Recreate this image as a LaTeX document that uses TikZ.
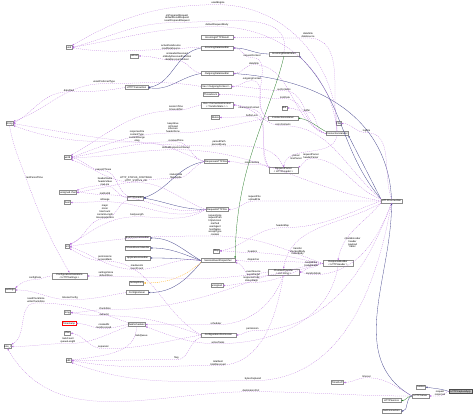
\documentclass[tikz,border=0pt]{standalone}
\usepackage{fontspec}
\setmainfont{Liberation Sans}
\usetikzlibrary{arrows.meta}
\definecolor{usepurple}{RGB}{154,50,205}
\definecolor{pubblue}{RGB}{25,25,112}
\definecolor{protgreen}{RGB}{0,100,0}
\definecolor{tmplorange}{RGB}{255,165,0}
\definecolor{boxgray}{RGB}{102,102,102}
\definecolor{mainfill}{RGB}{191,191,191}
\newcommand\dxfont{\fontsize{2.5}{2.8}\selectfont}

\begin{document}
\begin{tikzpicture}[x=1pt,y=1pt,>={Latex[length=2pt,width=1.6pt]},
  cls/.style={draw=boxgray!75,line width=0.25pt,fill=white,inner sep=0.6pt,minimum height=3.8pt,font=\dxfont,align=center},
  lbl/.style={font=\dxfont,align=center,inner sep=0.2pt,text=black},
  usage/.style={->,usepurple!70,line width=0.25pt,dash pattern=on 1pt off 1pt},
  pub/.style={->,pubblue!80,line width=0.3pt},
  prot/.style={->,protgreen!85,line width=0.3pt},
  tmpl/.style={->,tmplorange,line width=0.3pt,dash pattern=on 1pt off 1pt}]
  \useasboundingbox (0,0) rectangle (474,415);

  \node[cls] (nVoid) at (69,367.5) {void};
  \node[cls] (nWord) at (134.5,359) {ushort};
  \node[cls] (nStr) at (9.5,291.5) {string};
  \node[cls] (nUint) at (67.5,257.5) {uint8};
  \node[cls] (nUchar) at (68,222.5) {unsigned char};
  \node[cls] (nBool) at (67.5,212.5) {bool};
  \node[cls] (nInt) at (67.5,168.5) {int};
  \node[cls,minimum width=35] (nCfgStore) at (69.5,139) {ConfigurationDataStore\\< HTTPSettings >};
  \node[cls] (nCfg) at (10,125) {Settings};
  \node[cls] (nLong) at (67.5,102.5) {long};
  \node[cls,draw=red] (nRed) at (69,91.5) {Timestamp};
  \node[cls] (nChar) at (67.5,82) {char};
  \node[cls] (nSize) at (7.5,68.5) {size\_t};
  \node[cls] (nT) at (68.5,54.5) {u64};

  \node[cls,minimum width=23] (nHS) at (136.5,327.5) {HTTPTransaction};
  \node[cls] (nHeader) at (135.5,217) {HTTPHeader};
  \node[cls,minimum width=25] (nB1) at (137.5,177) {EventSourceHandler};
  \node[cls,minimum width=25] (nB2) at (137.5,167) {TimeoutEventHandler};
  \node[cls,minimum width=25] (nB3) at (137.5,157) {ApplicationHandler};
  \node[cls] (nMutexB) at (136.5,132) {Semaphore};
  \node[cls,minimum width=22] (nList) at (137,122.5) {ConfigListener};
  \node[cls] (nTS) at (136.5,90.5) {TaskScheduler};

  \node[cls,minimum width=32] (nR1) at (217,377.5) {IncomingHTTPResult};
  \node[cls,minimum width=32] (nR2) at (217,367) {IncomingDataHandler};
  \node[cls,minimum width=32] (nR3) at (217,341.5) {OutgoingDataHandler};
  \node[cls,minimum width=30] (nR4) at (216,328.5) {Vec< OutgoingContext >};
  \node[cls] (nR5) at (210.5,320.5) {ThreadLock};
  \node[cls,minimum width=32] (nR6) at (217,310) {Vec< ConnectionContext\\< TransferState > >};
  \node[cls] (nR7) at (215.5,297.5) {Mutex};
  \node[cls,minimum width=20] (nR8) at (216,253.5) {ResponseHTTPFile};
  \node[cls,minimum width=22] (nR9) at (217,205.5) {RequestHTTPFile};
  \node[cls] (nMap) at (216.5,164) {Map};
  \node[cls,minimum width=34] (nWork) at (218,154.5) {SessionEventDispatcher};
  \node[cls] (nU) at (217,129.5) {unsigned};
  \node[cls,minimum width=35] (nCW) at (218.5,80) {ConfigurationPermission};

  \node[cls,minimum width=30] (nC1) at (284,361) {IncomingDataStream};
  \node[cls] (nEmpty) at (284.5,307) {Buf};
  \node[cls,minimum width=30] (nC2) at (283,297) {ConnectionListener};
  \node[cls,minimum width=29] (nC3) at (283.5,244.5) {RequestParser\\< HTTPHeader >};
  \node[cls,minimum width=31] (nC4) at (283.5,143) {ChunkedTransfer\\< std::string >};

  \node[cls] (nFile) at (338.5,291.5) {File};
  \node[cls,minimum width=22] (nD1) at (337,281.5) {ConnectionHandler};
  \node[cls,minimum width=30] (nD2) at (338,151.5) {ResponseBuilder\\< HTTPHeader >};
  \node[cls] (nTime) at (337.5,32.5) {TimeOutT};

  \node[cls,minimum width=21] (nE1) at (391.5,214) {HTTPConnection};
  \node[cls] (nF1) at (421,28) {Socket};
  \node[cls,minimum width=17] (nF2) at (420.5,19) {HTTPServer};
  \node[cls,minimum width=19] (nG1) at (391.5,14.5) {HTTPService};
  \node[cls,minimum width=19] (nG2) at (391.5,4) {NetConnection};
  \node[cls,draw=black!70,fill=mainfill,minimum width=23] (nMain) at (460.5,23.5) {HTTPCaptureApp};

  \draw[pub] (nR2.west) to[out=190,in=10] (nHS.east);
  \draw[pub] (nR3.west) to[out=190,in=-10] (nHS.east);
  \draw[pub] (nE1.north) .. controls (388,290) and (330,335) .. (nR3.east);
  \draw[pub] (nE1.north west) to[out=130,in=-45] (nC1.south east);
  \draw[pub] (nE1.north west) -- (nD1.south east);
  \draw[pub] (nC1.west) to[out=180,in=0] (nR2.east);
  \draw[pub] (nR8.west) to[out=190,in=20] (nHeader.east);
  \draw[pub] (nR9.west) to[out=180,in=-10] (nHeader.east);
  \draw[pub] (nWork.west) to[out=150,in=0] (nB1.east);
  \draw[pub] (nWork.west) to[out=160,in=0] (nB2.east);
  \draw[pub] (nWork.west) to[out=175,in=0] (nB3.east);
  \draw[pub] (nWork.south west) to[out=-130,in=0] (nList.east);
  \draw[tmpl] (nWork.south west) to[out=-140,in=0] (nMutexB.east);
  \draw[pub] (nMain.west) to[out=160,in=-10] (nF1.east);
  \draw[pub] (nF2.west) to[out=-160,in=0] (nG2.east);
  \draw[pub] (nF2.west) to[out=150,in=-90] (nE1.south);
  \draw[prot] (nC1.south) .. controls (270,300) and (236,250) .. (nWork.north east);
  \draw[prot] (nD1.north west) to[out=150,in=-10] (nC2.east);
  \draw[prot] (nF2.west) to[out=180,in=0] (nG1.east);

  \draw[usage] (nD1.north) to[out=90,in=0] (218,410.3) node[lbl,above]{usedEngine} to[out=180,in=30] (nVoid.north east);
  \draw[usage] (nC1.north) to[out=80,in=0] (177,392.5) node[lbl,above]{onPreparedRequest\\defaultResultRequest\\resetPreparedRequest} to[out=180,in=15] (nVoid.east);
  \draw[usage] (nD1.north) to[out=95,in=0] (217,388.3) node[lbl,above]{defaultRequestBody} to[out=180,in=10] (nVoid.east);
  \draw[usage] (nR2.west) to[out=170,in=0] (171,365.5) node[lbl,above]{activeDataSource\\readDataSource} to[out=180,in=-10] (nVoid.east);
  \draw[usage] (nR3.west) to[out=170,in=0] (177,354.5) node[lbl,above]{onHeaderReceived\\onBodyReceivedFunction\\dataReceiverContext} to[out=180,in=0] (nWord.east);
  \draw[usage] (nR4.west) to[out=170,in=0] (104,331.3) node[lbl,above]{unsetPreferredType} to[out=180,in=20] (nStr.north east);
  \draw[usage] (nHS.west) to[out=190,in=0] (69,323.3) node[lbl,above]{dataFlow} to[out=180,in=30] (nStr.east);
  \draw[usage] (nD1.north) to[out=100,in=0] (308,377) node[lbl,above]{dataSink\\dataSource} to[out=180,in=0] (nR1.east);
  \draw[usage] (nC2.west) to[out=150,in=0] (252,357.3) node[lbl,above]{requestContext} to[out=180,in=0] (nR2.east);
  \draw[usage] (nD1.west) to[out=160,in=0] (254,350.3) node[lbl,above]{dataSink} to[out=180,in=0] (nR3.east);
  \draw[usage] (nC2.west) to[out=160,in=0] (252,334.3) node[lbl,above]{outgoingContext} to[out=180,in=0] (nR4.east);
  \draw[usage] (nD1.west) to[out=165,in=0] (284,324.3) node[lbl,above]{outContexts} to[out=180,in=0] (nR4.east);
  \draw[usage] (nD1.west) to[out=170,in=0] (285,316.3) node[lbl,above]{lockData} to[out=180,in=0] (nR5.east);
  \draw[usage] (nC3.north west) to[out=120,in=0] (249,306.3) node[lbl,above]{connectionContext} to[out=180,in=0] (nR6.east);
  \draw[usage] (nD1.west) to[out=175,in=0] (307,303.3) node[lbl,above]{buffer} to[out=180,in=0] (nEmpty.east);
  \draw[usage] (nC3.north west) to[out=130,in=0] (252,298.3) node[lbl,above]{bufferLock} to[out=180,in=0] (nR7.east);
  \draw[usage] (nE1.north west) to[out=140,in=0] (283,289.3) node[lbl,above]{connContexts} to[out=180,in=0] (nR6.east);
  \draw[usage] (nR6.west) to[out=190,in=0] (176,304.5) node[lbl,above]{sessionTime\\timeoutAfter} to[out=180,in=30] (nUint.north east);
  \draw[usage] (nC2.west) to[out=190,in=0] (173,282) node[lbl,above]{keepAlive\\isClosed\\isSecure\\headerDone} to[out=180,in=20] (nUint.east);
  \draw[usage] (nR8.west) to[out=160,in=0] (137,273) node[lbl,above]{responseFile\\contentType\\contentRange\\etag} to[out=180,in=-20] (nStr.south east);
  \draw[usage] (nR8.west) to[out=170,in=0] (176,273.3) node[lbl,above]{receivedTime} to[out=180,in=10] (nUint.east);
  \draw[usage] (nC3.north) to[out=110,in=0] (219,269) node[lbl,above]{parsedPath\\parsedQuery} to[out=180,in=-10] (nStr.east);
  \draw[usage] (nE1.west) to[out=170,in=0] (176,265.3) node[lbl,above]{defaultResponseCharset} to[out=180,in=0] (nUint.east);
  \draw[usage] (nR8.west) to[out=200,in=0] (176,236.5) node[lbl,above]{statusCode\\fileHandle} to[out=180,in=10] (nUchar.east);
  \draw[usage] (nR9.west) to[out=160,in=0] (136,232.5) node[lbl,above]{HTTP\_STATUS\_CONTINUE\\HTTP\_STATUS\_OK} to[out=180,in=-20] (nUint.south east);
  \draw[usage] (nHeader.west) to[out=170,in=0] (105,229.5) node[lbl,above]{headerName\\headerValue\\rawLine} to[out=180,in=20] (nUchar.north east);
  \draw[usage] (nHeader.north west) to[out=150,in=0] (103.5,244.3) node[lbl,above]{reasonPhrase} to[out=180,in=-10] (nUint.east);
  \draw[usage] (nR9.west) to[out=190,in=0] (105,220.3) node[lbl,above]{methodId} to[out=180,in=0] (nUchar.east);
  \draw[usage] (nR9.west) to[out=200,in=0] (105,213.3) node[lbl,above]{isRange} to[out=180,in=0] (nBool.east);
  \draw[usage] (nR9.west) to[out=210,in=0] (137,198.3) node[lbl,above]{bodyLength} to[out=180,in=30] (nInt.north east);
  \draw[usage] (nHeader.south west) to[out=200,in=0] (105,196.5) node[lbl,above]{major\\minor\\lineCount\\contentLength\\maxHeaderSize} to[out=180,in=20] (nInt.north east);
  \draw[usage] (nD2.west) to[out=160,in=0] (215,179) node[lbl,above]{requestLine\\requestPath\\httpVersion\\method\\userAgent\\hostName\\acceptType\\cookies} to[out=180,in=10] (nInt.east);
  \draw[usage] (nWork.west) to[out=170,in=0] (137,145.5) node[lbl,above]{maxEvents\\eventCount} to[out=180,in=-20] (nInt.east);
  \draw[usage] (nCW.west) to[out=150,in=0] (105,154) node[lbl,above]{permissions\\accessMask} to[out=180,in=-30] (nInt.south east);
  \draw[usage] (nStr.south) to[out=-80,in=110] (26,237) node[lbl,right]{lastPeriodTime} to[out=-70,in=120] (nCfgStore.north);
  \draw[usage] (nC4.west) to[out=190,in=0] (106,138.5) node[lbl,above]{settingsStore\\defaultStore} to[out=180,in=0] (nCfgStore.east);
  \draw[usage] (nCfgStore.west) to[out=180,in=0] (35,135.3) node[lbl,above]{configData} to[out=180,in=40] (nCfg.north east);
  \draw[usage] (nList.west) to[out=190,in=0] (70,115.3) node[lbl,above]{listenerConfig} to[out=180,in=0] (nCfg.east);
  \draw[usage] (nTS.north west) to[out=160,in=0] (36,112) node[lbl,above]{readChunkSize\\writeChunkSize} to[out=180,in=30] (nSize.north east);
  \draw[usage] (nC4.south west) to[out=200,in=0] (105,105.3) node[lbl,above]{chunkSize} to[out=180,in=0] (nLong.east);
  \draw[usage] (nCW.west) to[out=160,in=0] (104,99.3) node[lbl,above]{ownerId} to[out=180,in=-10] (nLong.east);
  \draw[usage] (nTS.west) to[out=190,in=0] (104,86.5) node[lbl,above]{createdAt\\lastAccessed} to[out=180,in=0] (nRed.east);
  \draw[usage] (nTS.south west) to[out=200,in=0] (68,71.5) node[lbl,above]{taskCount\\queueLength} to[out=180,in=0] (nSize.east);
  \draw[usage] (nCW.west) to[out=190,in=0] (103.5,66.3) node[lbl,above]{separator} to[out=180,in=-10] (nChar.east);
  \draw[usage] (nCW.south west) to[out=200,in=0] (176.5,55.3) node[lbl,above]{flag} to[out=180,in=0] (nT.east);
  \draw[usage] (nC4.south) to[out=-100,in=0] (218,49.5) node[lbl,above]{totalSent\\totalReceived} to[out=180,in=-10] (nT.east);
  \draw[usage] (nE1.south) to[out=-100,in=0] (253,34.3) node[lbl,above]{bytesCaptured} to[out=180,in=-20] (nT.south east);
  \draw[usage] (nF2.west) to[out=180,in=0] (251,23.3) node[lbl,above]{destinationPort} to[out=180,in=-60] (nSize.south);
  \draw[usage] (nE1.south) to[out=-110,in=0] (252.5,84.3) node[lbl,above]{permission} to[out=180,in=0] (nCW.east);
  \draw[usage] (nC4.south) to[out=-110,in=0] (216,90.3) node[lbl,above]{scheduler} to[out=180,in=0] (nTS.east);
  \draw[usage] (nD2.south) to[out=-100,in=0] (218,71.3) node[lbl,above]{activeTasks} to[out=180,in=-20] (nTS.south east);
  \draw[usage] (nTS.south) to[out=-90,in=10] node[lbl,pos=0.12,right]{taskQueue} (nT.east);
  \draw[usage] (nD2.west) to[out=190,in=0] (251.5,132.5) node[lbl,above]{responseCode\\statusFlags} to[out=180,in=0] (nU.east);
  \draw[usage] (nD2.west) to[out=170,in=0] (252.5,162.3) node[lbl,above]{headers} to[out=180,in=0] (nMap.east);
  \draw[usage] (nD2.west) to[out=175,in=0] (253.5,153.3) node[lbl,above]{dispatcher} to[out=180,in=0] (nWork.east);
  \draw[usage] (nD2.west) to[out=185,in=0] (253.5,138.5) node[lbl,above]{eventSource\\eventTarget} to[out=180,in=-10] (nWork.south east);
  \draw[usage] (nE1.south west) to[out=-130,in=80] node[lbl,pos=0.75,right]{chunkEncoder\\header\\payload\\trailer} (nD2.north);
  \draw[usage] (nE1.south west) to[out=-150,in=80] node[lbl,pos=0.85,right]{transfer\\chunkedBody\\trailerBody} (nC4.north);
  \draw[usage] (nD2.west) to[out=180,in=0] (311.5,147.5) node[lbl,above]{bodyWriter\\bodyReader} to[out=180,in=0] (nC4.east);
  \draw[usage] (nE1.south) to[out=-110,in=0] (313.5,140.3) node[lbl,above]{transferMode} to[out=180,in=-10] (nC4.east);
  \draw[usage] (nE1.west) to[out=200,in=0] (282.5,187.3) node[lbl,above]{headerMap} to[out=180,in=10] (nMap.east);
  \draw[usage] (nE1.north west) to[out=160,in=0] (311,256.5) node[lbl,above]{requestParser\\headerParser} to[out=180,in=30] (nC3.north east);
  \draw[usage] (nC3.north west) to[out=150,in=0] (252,250.3) node[lbl,above]{responseFile} to[out=180,in=0] (nR8.east);
  \draw[usage] (nD1.south) to[out=-100,in=80] node[lbl,pos=0.8,right]{parser\\lineParser} (nC3.north);
  \draw[usage] (nE1.west) to[out=180,in=0] (254.5,214) node[lbl,above]{requestFile\\uploadFile} to[out=180,in=0] (nR9.east);
  \draw[usage] (nF2.west) to[out=150,in=0] (366.5,37.3) node[lbl,above]{timeout} to[out=180,in=0] (nTime.east);
  \draw[usage] (nE1.north) to[out=110,in=0] (366.5,282.3) node[lbl,above]{logFile} to[out=180,in=0] (nFile.east);
  \draw[usage] (nMain.west) to[out=180,in=0] (440,19) node[lbl,above]{request\\response} to[out=180,in=0] (nF2.east);
\end{tikzpicture}
\end{document}
